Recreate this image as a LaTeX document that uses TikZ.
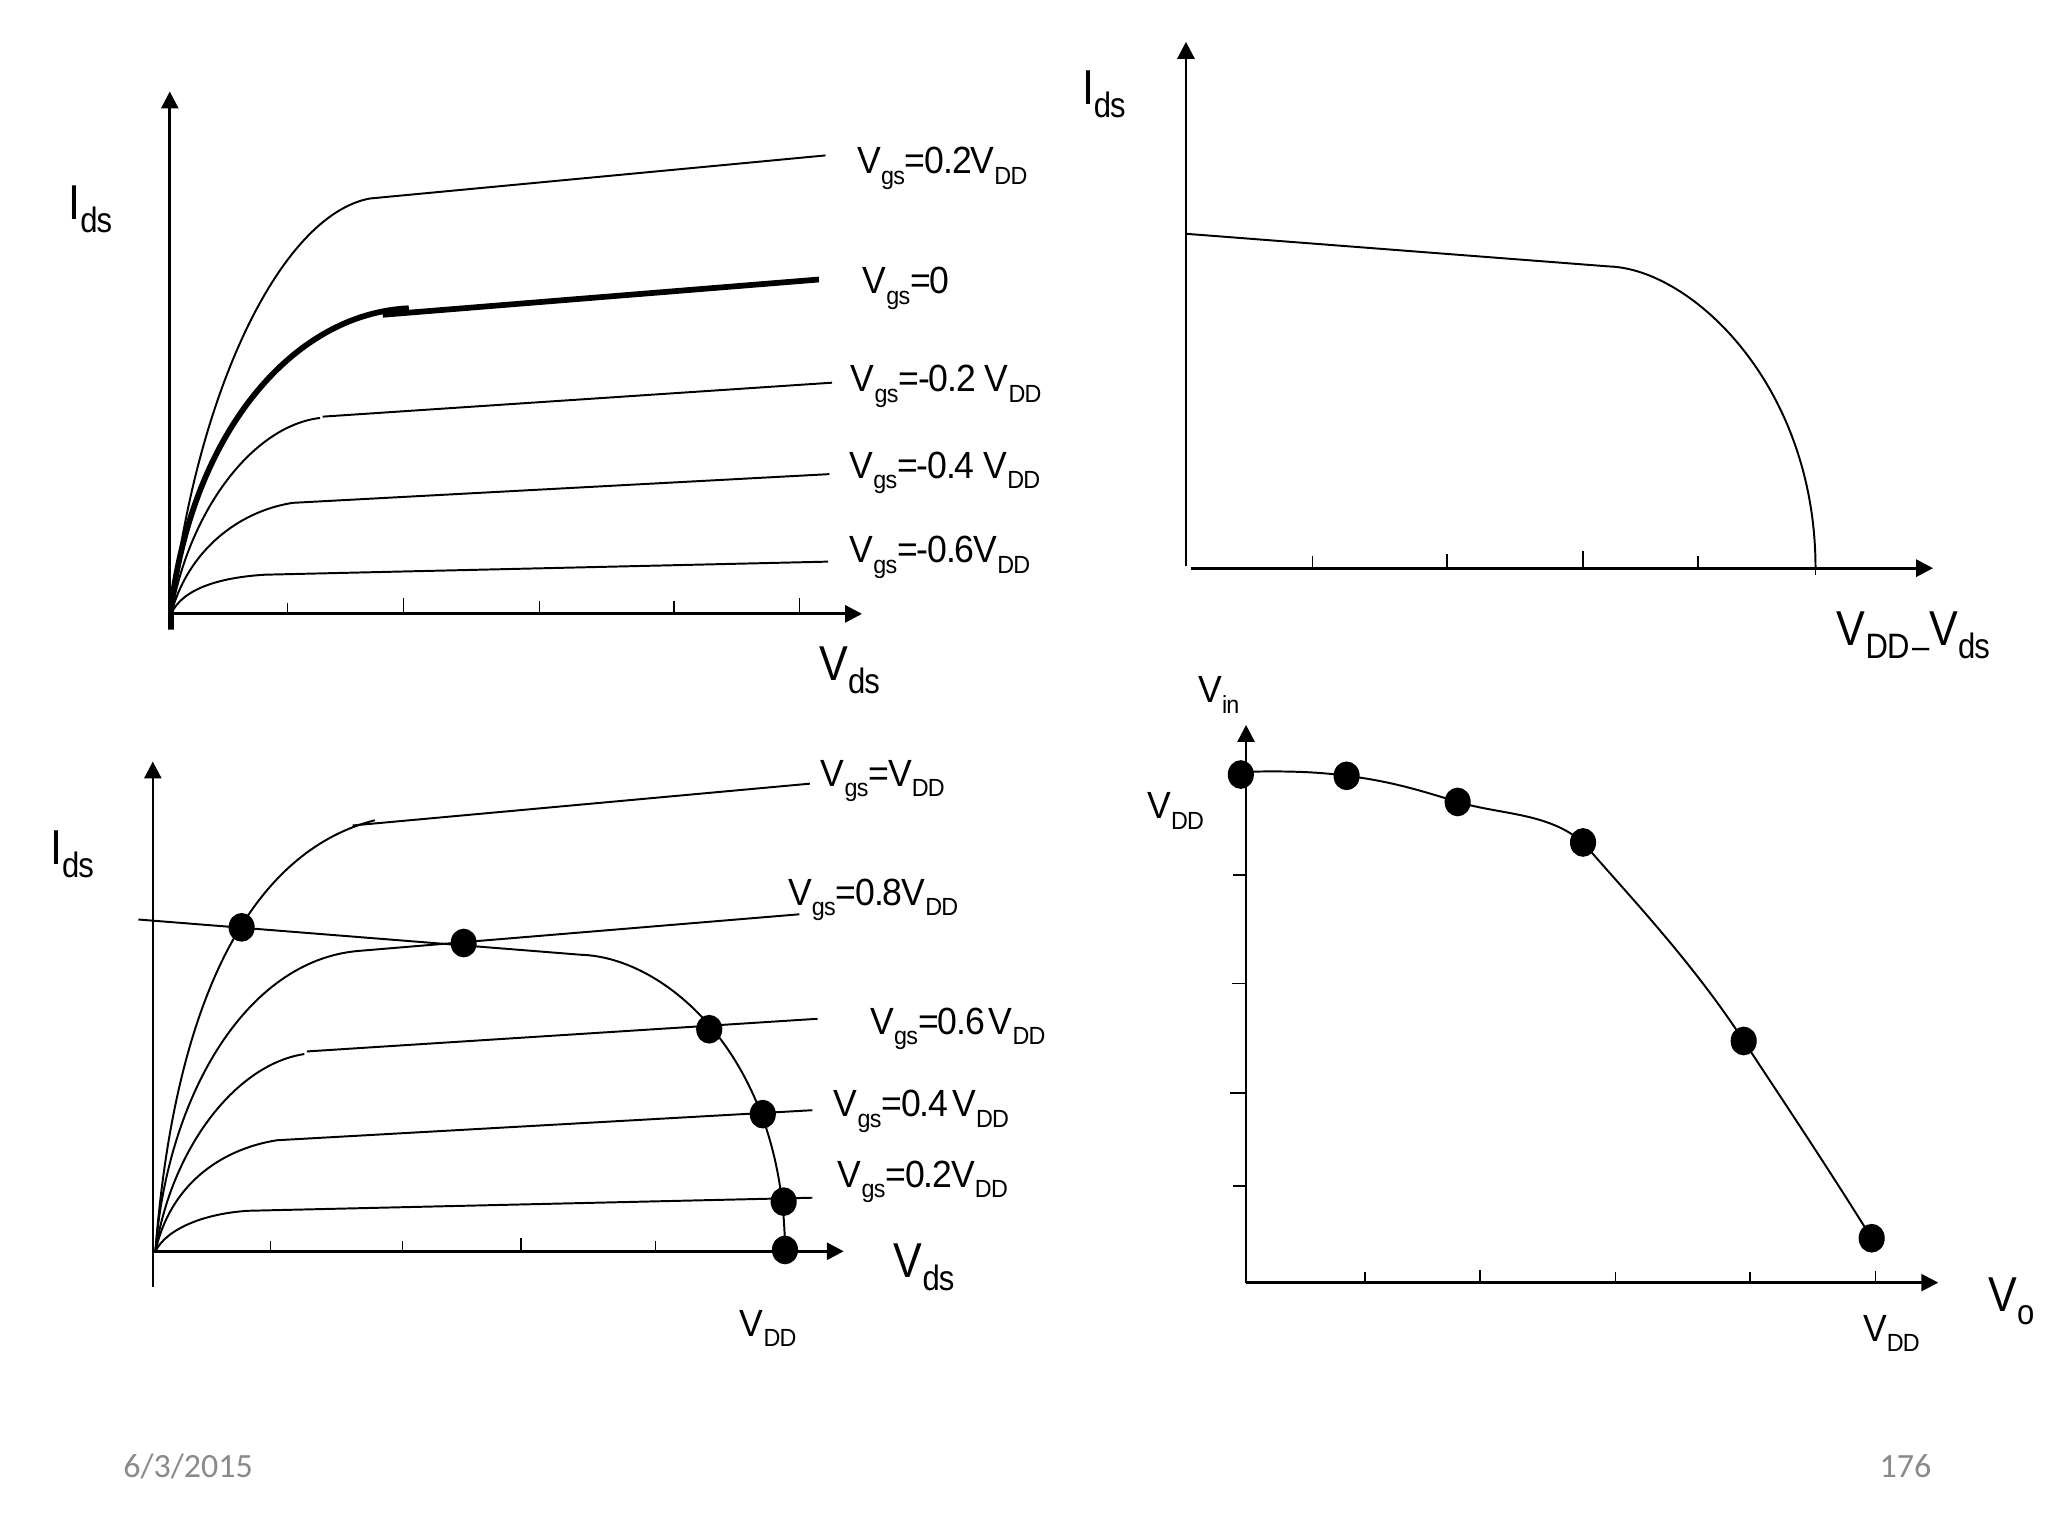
\documentclass[tikz,border=0pt]{standalone}
\usepackage{fontspec}
\setmainfont[LetterSpace=-3,FakeStretch=0.94]{Liberation Sans}
\newfontfamily\bigfont[LetterSpace=-3,FakeStretch=0.88]{Liberation Sans}
\newfontfamily\footfont{Carlito}
\usetikzlibrary{arrows.meta,shapes.geometric}
\newcommand{\ssub}[1]{\raisebox{-4pt}{\fontsize{9.5}{10}\selectfont #1}}
\newcommand{\bsub}[1]{\raisebox{-5pt}{\fontsize{13.5}{14}\selectfont #1}}
\tikzset{
  curve/.style={line width=0.75pt,black},
  heavy/.style={line width=2.2pt,black},
  axis/.style={line width=1pt,black,-{Triangle[length=6.5pt,width=6.5pt]}},
  tick/.style={line width=0.6pt,black},
  smalllab/.style={anchor=base west,inner sep=0pt,font=\fontsize{14.5}{16}\selectfont},
  biglab/.style={anchor=base west,inner sep=0pt,font=\bigfont\fontsize{18.75}{20}\selectfont},
  footlab/.style={inner sep=0pt,text=black!46,font=\footfont\fontsize{13}{15}\selectfont},
  dot/.style={ellipse,fill=black,inner sep=0pt,minimum width=10pt,minimum height=11pt},
}
\begin{document}
\begin{tikzpicture}[x=0.5pt,y=-0.5pt]
\useasboundingbox (0,0) rectangle (1568,1176);
\fill[white] (0,0) rectangle (1568,1176);

% ---------- Panel A
\draw[axis] (130,480) -- (130,70);
\draw[axis,line width=1.2pt] (130,470) -- (660,470);
\foreach \x/\h in {220/8,309/12,413/10,516/10,612/12}{\draw[tick] (\x,470) -- (\x,470-\h);}
\draw[curve] (131,470) .. controls (150,300) and (215,165) .. (283,152) -- (632,119);
\draw[heavy] (131,482) -- (131,465) .. controls (148,330) and (225,240) .. (313,236);
\draw[heavy] (293,241) -- (627,214);
\draw[curve] (131,470) .. controls (145,390) and (194,326) .. (245,320);
\draw[curve] (247,319) -- (637,293);
\draw[curve] (131,470) .. controls (143,424) and (180,392) .. (224,385) -- (635,363);
\draw[curve] (131,470) .. controls (140,450) and (170,442) .. (203,440) -- (634,430);
\node[biglab] (aI) at (52,168) {I\bsub{ds}};
\node[biglab] (aV) at (627,521) {V\bsub{ds}};
\node[smalllab] (a1) at (656,133) {V\ssub{gs}=0.2V\ssub{DD}};
\node[smalllab] (a2) at (660,225) {V\ssub{gs}=0};
\node[smalllab] (a3) at (651,300) {V\ssub{gs}=-0.2 V\ssub{DD}};
\node[smalllab] (a4) at (650,366) {V\ssub{gs}=-0.4 V\ssub{DD}};
\node[smalllab] (a5) at (650,431) {V\ssub{gs}=-0.6V\ssub{DD}};

% ---------- Panel B
\draw[axis] (908,433) -- (908,32);
\draw[axis,line width=1.2pt] (912,435) -- (1480,435);
\foreach \x/\h in {1005/9,1108/11,1212/13,1300/9}{\draw[tick] (\x,435) -- (\x,435-\h);}
\draw[tick] (1390,428) -- (1390,440);
\draw[curve] (908,179) -- (1232,204) .. controls (1295,206) and (1390,295) .. (1390,435);
\node[biglab] (bI) at (828,80) {I\bsub{ds}};
\node[biglab] (bV) at (1406,494) {V\bsub{DD\kern1pt–}V\bsub{ds}};

% ---------- Panel C
\draw[axis] (117,985) -- (117,583);
\draw[axis,line width=1.2pt] (117,958) -- (646,958);
\foreach \x/\h in {207/8,308/8,399/10,502/8}{\draw[tick] (\x,958) -- (\x,958-\h);}
\draw[curve] (119,958) .. controls (135,750) and (200,650) .. (287,628);
\draw[curve] (270,632) -- (620,600);
\draw[curve] (119,958) .. controls (128,840) and (188,735) .. (275,728) -- (612,700);
\draw[curve] (119,958) .. controls (131,880) and (180,815) .. (233,807);
\draw[curve] (235,805) -- (626,780);
\draw[curve] (119,958) .. controls (130,908) and (168,880) .. (212,873) -- (622,850);
\draw[curve] (119,958) .. controls (128,940) and (158,929) .. (190,927) -- (622,917);
\draw[curve] (106,704) -- (445,731) .. controls (510,733) and (600,810) .. (601,957);
\foreach \n/\p in {c1/{185,710},c2/{355,722},c3/{543,788},c4/{584,853},c5/{600,920},c6/{601,957}}{
  \node[dot] (\n) at (\p) {};
}
\node[biglab] (cI) at (38,662) {I\bsub{ds}};
\node[biglab] (cV) at (684,978) {V\bsub{ds}};
\node[smalllab] (cl1) at (628,602) {V\ssub{gs}=V\ssub{DD}};
\node[smalllab] (cl2) at (603,693) {V\ssub{gs}=0.8V\ssub{DD}};
\node[smalllab] (cl3) at (666,792) {V\ssub{gs}=0.6\kern1.5pt V\ssub{DD}};
\node[smalllab] (cl4) at (638,855) {V\ssub{gs}=0.4\kern1.5pt V\ssub{DD}};
\node[smalllab] (cl5) at (641,909) {V\ssub{gs}=0.2V\ssub{DD}};
\node[smalllab] (cD) at (566,1023) {V\ssub{DD}};

% ---------- Panel D
\draw[axis] (954,982) -- (954,555);
\draw[axis] (954,982) -- (1484,982);
\foreach \x/\h in {1045/8,1133/10,1237/8,1340/8,1436/9}{\draw[tick] (\x,982) -- (\x,982-\h);}
\foreach \y/\l in {670/944,753/943,837/942,908/944}{\draw[tick] (\l,\y) -- (954,\y);}
\draw[curve] (950,591) .. controls (985,590) and (1010,591) .. (1031,594)
  .. controls (1065,598) and (1090,606) .. (1116,614)
  .. controls (1150,624) and (1185,622) .. (1212,645)
  .. controls (1240,678) and (1295,735) .. (1335,797)
  .. controls (1370,850) and (1400,895) .. (1433,948);
\foreach \n/\p in {d1/{950,593},d2/{1031,594},d3/{1116,614},d4/{1212,645},d5/{1335,797},d6/{1433,948}}{
  \node[dot] (\n) at (\p) {};
}
\node[smalllab] (dVi) at (917,538) {V\ssub{in}};
\node[smalllab] (dVd) at (878,627) {V\ssub{DD}};
\node[smalllab] (dVe) at (1426,1027) {V\ssub{DD}};
\node[biglab] (dVo) at (1522,1004) {V\bsub{o}};

% ---------- Footer
\node[footlab,anchor=base west] (date) at (94,1131) {6/3/2015};
\node[footlab,anchor=base east] (page) at (1479,1131) {176};
\end{tikzpicture}
\end{document}
